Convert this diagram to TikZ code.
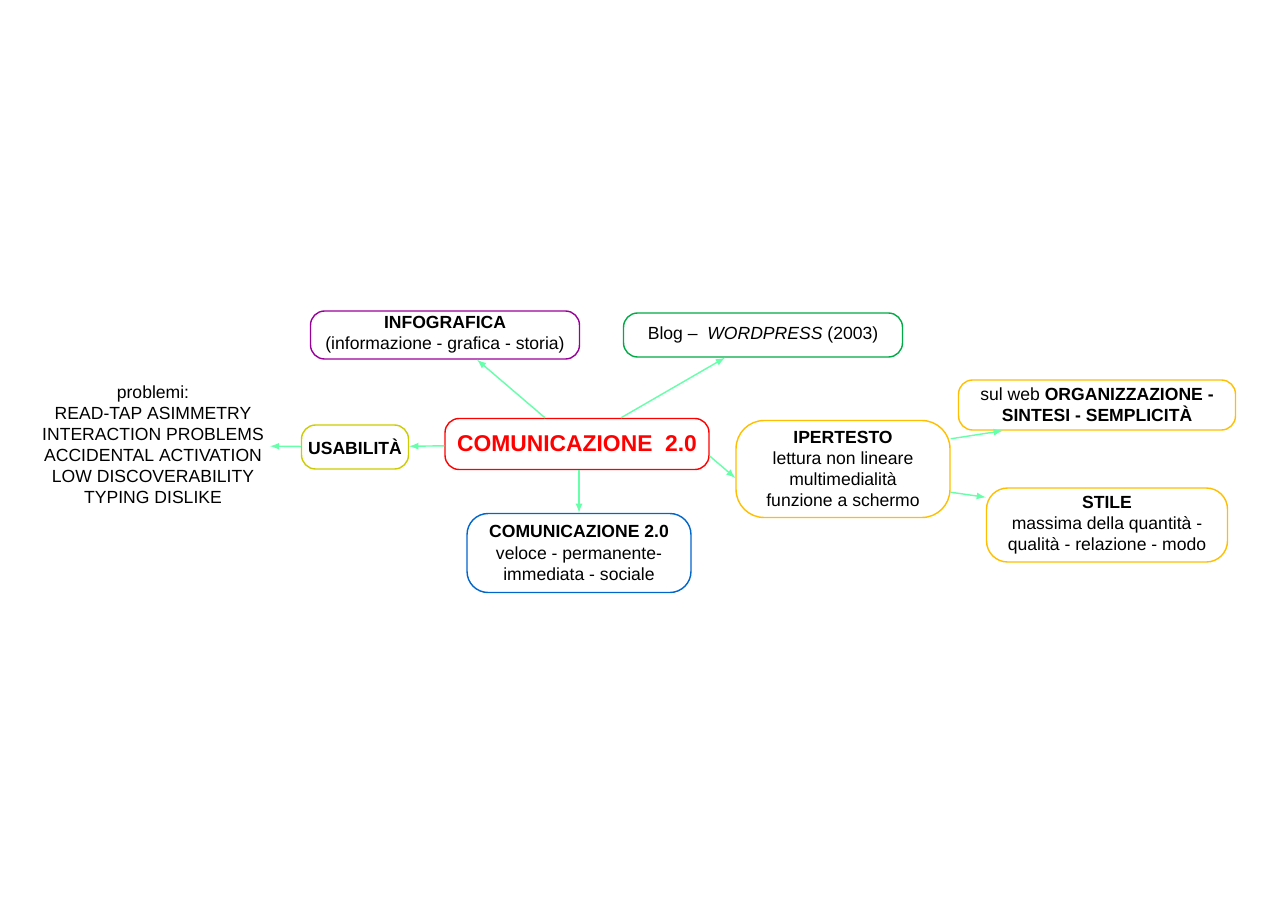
\documentclass[tikz,border=0pt]{standalone}
\usepackage{fontspec}
\setmainfont{Liberation Sans}
\definecolor{linkgreen}{HTML}{66FFAA}
\definecolor{mapred}{HTML}{FF0000}
\definecolor{mappurple}{HTML}{990099}
\definecolor{mapgreen}{HTML}{00AA44}
\definecolor{mapolive}{HTML}{CCCC00}
\definecolor{mapblue}{HTML}{0066CC}
\definecolor{maporange}{HTML}{FFBF00}
\tikzset{
  concept/.style={rectangle,rounded corners=8pt,draw,thick,align=center,
    font=\fontsize{10}{12}\selectfont,inner sep=2pt},
  link/.style={->,>=latex,linkgreen,thick}
}
\begin{document}
\begin{tikzpicture}[x=0.02cm,y=-0.02cm]
    \useasboundingbox (0,0) rectangle (1280,905);
    \node[concept,draw=mapred,text=mapred,minimum width=5.28cm,minimum height=1.02cm,font=\fontsize{13}{15}\selectfont\bfseries] (comunicazione) at (577,444) {COMUNICAZIONE \ 2.0};
    \node[concept,draw=mappurple,minimum width=5.38cm,minimum height=0.96cm] (infografica) at (445,335) {\textbf{INFOGRAFICA}\\(informazione - grafica - storia)};
    \node[concept,draw=mapgreen,minimum width=5.58cm,minimum height=0.88cm] (blog) at (763,335) {Blog -- \ \textit{WORDPRESS} (2003)};
    \node[concept,draw=mapolive,minimum width=2.14cm,minimum height=0.88cm] (usabilita) at (355,447) {\textbf{USABILITÀ}};
    \node[align=center,font=\fontsize{10}{12}\selectfont] (problemi) at (153,445) {problemi:\\READ-TAP ASIMMETRY\\INTERACTION PROBLEMS\\ACCIDENTAL ACTIVATION\\LOW DISCOVERABILITY\\TYPING DISLIKE};
    \node[concept,draw=mapblue,rounded corners=12pt,minimum width=4.48cm,minimum height=1.58cm] (caratteri) at (579,553) {\textbf{COMUNICAZIONE 2.0}\\veloce - permanente-\\immediata - sociale};
    \node[concept,draw=maporange,rounded corners=16pt,minimum width=4.28cm,minimum height=1.94cm] (ipertesto) at (843,469) {\textbf{IPERTESTO}\\lettura non lineare\\multimedialità\\funzione a schermo};
    \node[concept,draw=maporange,minimum width=5.54cm,minimum height=1.0cm] (web) at (1097,405) {sul web \textbf{ORGANIZZAZIONE -}\\\textbf{SINTESI - SEMPLICITÀ}};
    \node[concept,draw=maporange,rounded corners=12pt,minimum width=4.82cm,minimum height=1.48cm] (stile) at (1107,525) {\textbf{STILE}\\massima della quantità -\\qualità - relazione - modo};

    \draw[link] ([xshift=-0.64cm]comunicazione.north) -- (infografica.south -| 477,0);
    \draw[link] ([xshift=0.88cm]comunicazione.north) -- ([xshift=-0.76cm]blog.south);
    \draw[link] (comunicazione) -- (usabilita);
    \draw[link] (usabilita) -- (problemi);
    \draw[link] (comunicazione.south -| caratteri.north) -- (caratteri);
    \draw[link] ([yshift=-0.24cm]comunicazione.east) -- ([yshift=-0.18cm]ipertesto.west);
    \draw[link] ([yshift=-0.38cm]ipertesto.north east) -- ([xshift=0.9cm]web.south west);
    \draw[link] ([yshift=0.52cm]ipertesto.south east) -- ([yshift=-0.2cm]stile.north west);
\end{tikzpicture}
\end{document}
